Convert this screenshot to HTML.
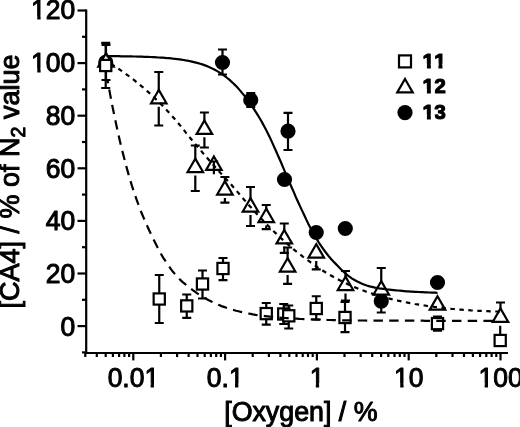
<!DOCTYPE html>
<html lang="en"><head><meta charset="utf-8"><title>Oxygen dependence of CA4 release</title>
<style>html,body{margin:0;padding:0;background:#fff}svg{display:block}text{font-kerning:none}</style></head>
<body><svg width="520" height="427" viewBox="0 0 520 427">
<rect width="520" height="427" fill="#fff"/>
<g fill="none" stroke="#000" stroke-width="2.2">
<path d="M86.2,9.4V353H508"/>
<path d="M77.5,10.5H86.2"/>
<path d="M77.5,63.1H86.2"/>
<path d="M77.5,115.7H86.2"/>
<path d="M77.5,168.3H86.2"/>
<path d="M77.5,220.9H86.2"/>
<path d="M77.5,273.5H86.2"/>
<path d="M77.5,326.1H86.2"/>
<path d="M82,36.80H86.2"/>
<path d="M82,89.40H86.2"/>
<path d="M82,142.00H86.2"/>
<path d="M82,194.60H86.2"/>
<path d="M82,247.20H86.2"/>
<path d="M82,299.80H86.2"/>
<path d="M82,352.40H86.2"/>
<path d="M133.3,353V360.4"/>
<path d="M225.1,353V360.4"/>
<path d="M316.9,353V360.4"/>
<path d="M408.7,353V360.4"/>
<path d="M500.5,353V360.4"/>
<path d="M85.3,353V357"/>
<path d="M96.8,353V357"/>
<path d="M105.7,353V357"/>
<path d="M112.9,353V357"/>
<path d="M119.1,353V357"/>
<path d="M124.4,353V357"/>
<path d="M129.1,353V357"/>
<path d="M160.9,353V357"/>
<path d="M177.1,353V357"/>
<path d="M188.6,353V357"/>
<path d="M197.5,353V357"/>
<path d="M204.7,353V357"/>
<path d="M210.9,353V357"/>
<path d="M216.2,353V357"/>
<path d="M220.9,353V357"/>
<path d="M252.7,353V357"/>
<path d="M268.9,353V357"/>
<path d="M280.4,353V357"/>
<path d="M289.3,353V357"/>
<path d="M296.5,353V357"/>
<path d="M302.7,353V357"/>
<path d="M308.0,353V357"/>
<path d="M312.7,353V357"/>
<path d="M344.5,353V357"/>
<path d="M360.7,353V357"/>
<path d="M372.2,353V357"/>
<path d="M381.1,353V357"/>
<path d="M388.3,353V357"/>
<path d="M394.5,353V357"/>
<path d="M399.8,353V357"/>
<path d="M404.5,353V357"/>
<path d="M436.3,353V357"/>
<path d="M452.5,353V357"/>
<path d="M464.0,353V357"/>
<path d="M472.9,353V357"/>
<path d="M480.1,353V357"/>
<path d="M486.3,353V357"/>
<path d="M491.6,353V357"/>
<path d="M496.3,353V357"/>
</g>
<g fill="#000" stroke="#000" stroke-width="2.2">
<path d="M105.7,42.8V62.4M101.2,42.8H110.2"/>
<circle cx="105.7" cy="62.4" r="6.5"/>
<path d="M222.5,49.5V62.5M218.0,49.5H227.0"/>
<path d="M222.5,62.5V74.5M218.0,74.5H227.0"/>
<circle cx="222.5" cy="62.5" r="6.5"/>
<path d="M250.75,93V100M246.25,93H255.25"/>
<path d="M250.75,100V107M246.25,107H255.25"/>
<circle cx="250.75" cy="100" r="6.5"/>
<path d="M288,112.8V131.2M283.5,112.8H292.5"/>
<path d="M288,131.2V150M283.5,150H292.5"/>
<circle cx="288" cy="131.2" r="6.5"/>
<circle cx="284.5" cy="179.5" r="6.5"/>
<circle cx="316.25" cy="232.5" r="6.5"/>
<circle cx="345.3" cy="228.5" r="6.5"/>
<path d="M381.25,301.1V312.5M376.75,312.5H385.75"/>
<circle cx="381.25" cy="301.1" r="6.5"/>
<circle cx="437.5" cy="282.5" r="6.5"/>
</g>
<g fill="#fff" stroke="#000" stroke-width="2.2">
<path d="M106,44.9V56M101.5,44.9H110.5"/>
<path d="M106,69.96999999999998V80M101.5,80H110.5"/>
<path d="M106,53.15L113.75,66.57H98.25Z"/>
<path d="M158.75,72V92.75M154.25,72H163.25"/>
<path d="M158.75,106.72V125.5M154.25,125.5H163.25"/>
<path d="M158.75,89.90L166.5,103.32H151.0Z"/>
<path d="M204.4,112.5V123.4M199.9,112.5H208.9"/>
<path d="M204.4,137.37V147.5M199.9,147.5H208.9"/>
<path d="M204.4,120.55L212.15,133.97H196.65Z"/>
<path d="M195.3,145.5V161.5M190.8,145.5H199.8"/>
<path d="M195.3,175.47V191M190.8,191H199.8"/>
<path d="M195.3,158.65L203.05,172.07H187.55Z"/>
<path d="M213.9,156.45L221.65,169.87H206.15Z"/>
<path d="M224.9,177V184M220.4,177H229.4"/>
<path d="M224.9,197.97V202.6M220.4,202.6H229.4"/>
<path d="M224.9,181.15L232.65,194.57H217.15Z"/>
<path d="M250.5,187V201M246.0,187H255.0"/>
<path d="M250.5,214.97V226M246.0,226H255.0"/>
<path d="M250.5,198.15L258.25,211.57H242.75Z"/>
<path d="M266.25,205V211.5M261.75,205H270.75"/>
<path d="M266.25,225.47V229.2M261.75,229.2H270.75"/>
<path d="M266.25,208.65L274.0,222.07H258.5Z"/>
<path d="M284.3,223.5V232.8M279.8,223.5H288.8"/>
<path d="M284.3,246.77V252.8M279.8,252.8H288.8"/>
<path d="M284.3,229.95L292.05,243.37H276.55Z"/>
<path d="M287.6,247.5V261M283.1,247.5H292.1"/>
<path d="M287.6,274.97V283.9M283.1,283.9H292.1"/>
<path d="M287.6,258.15L295.35,271.57H279.85Z"/>
<path d="M316.25,260.97V269.4M311.75,269.4H320.75"/>
<path d="M316.25,244.15L324.0,257.57H308.5Z"/>
<path d="M345.5,271V279.5M341.0,271H350.0"/>
<path d="M345.5,293.47V300.5M341.0,300.5H350.0"/>
<path d="M345.5,276.65L353.25,290.07H337.75Z"/>
<path d="M381.25,268V284M376.75,268H385.75"/>
<path d="M381.25,281.15L389.0,294.57H373.5Z"/>
<path d="M437.5,296.25L445.25,309.67H429.75Z"/>
<path d="M500.5,302.5V311.4M496.0,302.5H505.0"/>
<path d="M500.5,308.55L508.25,321.97H492.75Z"/>
<path d="M209.6,161.5H218.2M213.9,161.5V174.2"/>
<path d="M105.7,65.5V88M101.2,88H110.2"/>
<rect x="100.10000000000001" y="59.9" width="11.2" height="11.2"/>
<path d="M159.25,275V299M154.75,275H163.75"/>
<path d="M159.25,299V323M154.75,323H163.75"/>
<rect x="153.65" y="293.4" width="11.2" height="11.2"/>
<path d="M186.75,294.5V305.9M182.25,294.5H191.25"/>
<path d="M186.75,305.9V317.8M182.25,317.8H191.25"/>
<rect x="181.15" y="300.29999999999995" width="11.2" height="11.2"/>
<path d="M202.5,270.5V284M198.0,270.5H207.0"/>
<path d="M202.5,284V298.5M198.0,298.5H207.0"/>
<rect x="196.9" y="278.4" width="11.2" height="11.2"/>
<path d="M223,258V268.5M218.5,258H227.5"/>
<path d="M223,268.5V280.2M218.5,280.2H227.5"/>
<rect x="217.4" y="262.9" width="11.2" height="11.2"/>
<path d="M266.25,303V313.6M261.75,303H270.75"/>
<path d="M266.25,313.6V324.7M261.75,324.7H270.75"/>
<rect x="260.65" y="308.0" width="11.2" height="11.2"/>
<path d="M283.75,304V314M279.25,304H288.25"/>
<path d="M283.75,314V324M279.25,324H288.25"/>
<rect x="278.15" y="308.4" width="11.2" height="11.2"/>
<path d="M288.75,305.5V315.8M284.25,305.5H293.25"/>
<path d="M288.75,315.8V328.5M284.25,328.5H293.25"/>
<rect x="283.15" y="310.2" width="11.2" height="11.2"/>
<path d="M316.25,296.25V308.5M311.75,296.25H320.75"/>
<path d="M316.25,308.5V319.5M311.75,319.5H320.75"/>
<rect x="310.65" y="302.9" width="11.2" height="11.2"/>
<path d="M345,302V317.5M340.5,302H349.5"/>
<path d="M345,317.5V332.1M340.5,332.1H349.5"/>
<rect x="339.4" y="311.9" width="11.2" height="11.2"/>
<path d="M437.5,316.5V323.6M433.0,316.5H442.0"/>
<path d="M437.5,323.6V330.7M433.0,330.7H442.0"/>
<rect x="431.9" y="318.0" width="11.2" height="11.2"/>
<path d="M500.2,325.8V336"/>
<rect x="494.59999999999997" y="334.9" width="11.2" height="11.2"/>
</g>
<g fill="none" stroke="#000" stroke-width="2.2">
<path d="M106.5,56.1 L108.6,56.1 L110.7,56.1 L112.7,56.2 L114.8,56.2 L116.9,56.2 L119.0,56.2 L121.1,56.3 L123.2,56.3 L125.2,56.3 L127.3,56.4 L129.4,56.4 L131.5,56.4 L133.6,56.5 L135.6,56.5 L137.7,56.6 L139.8,56.7 L141.9,56.7 L144.0,56.8 L146.1,56.9 L148.1,56.9 L150.2,57.0 L152.3,57.1 L154.4,57.2 L156.5,57.3 L158.5,57.5 L160.6,57.6 L162.7,57.7 L164.8,57.9 L166.9,58.1 L169.0,58.2 L171.0,58.4 L173.1,58.7 L175.2,58.9 L177.3,59.1 L179.4,59.4 L181.4,59.7 L183.5,60.0 L185.6,60.4 L187.7,60.7 L189.8,61.2 L191.9,61.6 L193.9,62.1 L196.0,62.6 L198.1,63.1 L200.2,63.7 L202.3,64.4 L204.3,65.1 L206.4,65.9 L208.5,66.7 L210.6,67.7 L212.7,68.7 L214.8,69.7 L216.8,70.9 L218.9,72.1 L221.0,73.5 L223.1,74.9 L225.2,76.4 L227.2,78.0 L229.3,79.7 L231.4,81.6 L233.5,83.5 L235.6,85.6 L237.7,87.8 L239.7,90.1 L241.8,92.6 L243.9,95.1 L246.0,97.8 L248.1,100.6 L250.1,103.5 L252.2,106.5 L254.3,109.6 L256.4,112.9 L258.5,116.2 L260.6,119.8 L262.6,123.4 L264.7,127.3 L266.8,131.3 L268.9,135.5 L271.0,139.9 L273.0,144.4 L275.1,149.0 L277.2,153.7 L279.3,158.5 L281.4,163.3 L283.4,168.2 L285.5,173.1 L287.6,177.9 L289.7,182.8 L291.8,187.7 L293.9,192.4 L295.9,197.2 L298.0,201.8 L300.1,206.4 L302.2,210.9 L304.3,215.3 L306.3,219.6 L308.4,223.9 L310.5,227.9 L312.6,231.9 L314.7,235.6 L316.8,239.1 L318.8,242.5 L320.9,245.6 L323.0,248.6 L325.1,251.5 L327.2,254.2 L329.2,256.8 L331.3,259.2 L333.4,261.5 L335.5,263.6 L337.6,265.7 L339.7,267.9 L341.7,270.0 L343.8,272.0 L345.9,273.9 L348.0,275.7 L350.1,277.2 L352.1,278.6 L354.2,279.8 L356.3,281.0 L358.4,282.0 L360.5,283.0 L362.6,283.9 L364.6,284.7 L366.7,285.5 L368.8,286.1 L370.9,286.7 L373.0,287.1 L375.0,287.6 L377.1,287.9 L379.2,288.3 L381.3,288.6 L383.4,288.9 L385.5,289.2 L387.5,289.5 L389.6,289.7 L391.7,289.9 L393.8,290.1 L395.9,290.3 L397.9,290.5 L400.0,290.7 L402.1,290.9 L404.2,291.1 L406.3,291.3 L408.4,291.4 L410.4,291.6 L412.5,291.7 L414.6,291.8 L416.7,291.9 L418.8,292.0 L420.8,292.1 L422.9,292.2 L425.0,292.3 L427.1,292.4 L429.2,292.5 L431.3,292.6 L433.3,292.6 L435.4,292.7 L437.5,292.8"/>
<path stroke-dasharray="4.5 4.5" stroke-dashoffset="3.2" d="M113.5,65.5 L115.9,67.0 L118.4,68.6 L120.8,70.3 L123.2,72.0 L125.7,73.7 L128.1,75.5 L130.5,77.4 L132.9,79.2 L135.4,81.2 L137.8,83.1 L140.2,85.1 L142.7,87.2 L145.1,89.3 L147.5,91.4 L150.0,93.6 L152.4,95.9 L154.8,98.1 L157.3,100.5 L159.7,102.8 L162.1,105.2 L164.5,107.8 L167.0,110.4 L169.4,113.0 L171.8,115.8 L174.3,118.5 L176.7,121.4 L179.1,124.2 L181.6,127.1 L184.0,130.2 L186.4,133.3 L188.9,136.4 L191.3,139.3 L193.7,142.2 L196.1,145.0 L198.6,147.8 L201.0,150.7 L203.4,153.6 L205.9,156.4 L208.3,159.2 L210.7,162.0 L213.2,164.7 L215.6,167.5 L218.0,170.2 L220.5,172.9 L222.9,175.6 L225.3,178.2 L227.7,180.8 L230.2,183.4 L232.6,186.2 L235.0,189.1 L237.5,191.9 L239.9,194.8 L242.3,197.6 L244.8,200.4 L247.2,203.2 L249.6,205.9 L252.1,208.6 L254.5,211.3 L256.9,214.0 L259.3,216.6 L261.8,219.2 L264.2,221.7 L266.6,224.2 L269.1,226.7 L271.5,229.1 L273.9,231.5 L276.4,233.9 L278.8,236.2 L281.2,238.4 L283.7,240.6 L286.1,242.8 L288.5,244.9 L290.9,247.0 L293.4,249.1 L295.8,251.1 L298.2,253.0 L300.7,254.9 L303.1,256.8 L305.5,258.6 L308.0,260.4 L310.4,262.2 L312.8,263.9 L315.3,265.6 L317.7,267.3 L320.1,268.9 L322.6,270.5 L325.0,272.0 L327.4,273.5 L329.8,274.9 L332.3,276.3 L334.7,277.6 L337.1,278.9 L339.6,280.2 L342.0,281.4 L344.4,282.6 L346.9,283.8 L349.3,284.9 L351.7,286.0 L354.2,287.0 L356.6,288.0 L359.0,289.0 L361.4,289.9 L363.9,290.8 L366.3,291.7 L368.7,292.5 L371.2,293.3 L373.6,294.1 L376.0,294.8 L378.5,295.6 L380.9,296.3 L383.3,297.0 L385.8,297.6 L388.2,298.3 L390.6,298.9 L393.0,299.5 L395.5,300.0 L397.9,300.6 L400.3,301.1 L402.8,301.6 L405.2,302.1 L407.6,302.6 L410.1,303.1 L412.5,303.5 L414.9,304.0 L417.4,304.4 L419.8,304.8 L422.2,305.1 L424.6,305.5 L427.1,305.9 L429.5,306.2 L431.9,306.5 L434.4,306.9 L436.8,307.2 L439.2,307.5 L441.7,307.7 L444.1,308.0 L446.5,308.3 L449.0,308.5 L451.4,308.8 L453.8,309.0 L456.2,309.2 L458.7,309.5 L461.1,309.7 L463.5,309.9 L466.0,310.0 L468.4,310.2 L470.8,310.4 L473.3,310.5 L475.7,310.7 L478.1,310.8 L480.6,310.9 L483.0,311.0 L485.4,311.1 L487.8,311.2 L490.3,311.3 L492.7,311.4 L495.1,311.5 L497.6,311.5 L500.0,311.6"/>
<path stroke-dasharray="9.4 6.3" stroke-dashoffset="6.3" d="M107.6,80.2 L110.0,93.6 L112.4,106.2 L114.9,118.2 L117.3,129.5 L119.7,140.2 L122.1,150.3 L124.6,159.8 L127.0,168.9 L129.4,177.4 L131.8,185.4 L134.3,192.9 L136.7,199.9 L139.1,206.5 L141.5,212.8 L144.0,218.6 L146.4,224.2 L148.8,229.5 L151.2,234.6 L153.7,239.7 L156.1,244.6 L158.5,249.3 L160.9,253.7 L163.3,257.8 L165.8,261.6 L168.2,265.2 L170.6,268.6 L173.0,271.8 L175.5,274.7 L177.9,277.4 L180.3,279.9 L182.7,282.1 L185.2,284.1 L187.6,286.1 L190.0,288.0 L192.4,289.9 L194.9,291.7 L197.3,293.4 L199.7,295.0 L202.1,296.5 L204.6,297.9 L207.0,299.3 L209.4,300.6 L211.8,301.8 L214.3,303.0 L216.7,304.1 L219.1,305.1 L221.5,306.1 L223.9,306.9 L226.4,307.8 L228.8,308.6 L231.2,309.3 L233.6,310.0 L236.1,310.7 L238.5,311.3 L240.9,311.9 L243.3,312.5 L245.8,313.0 L248.2,313.5 L250.6,313.9 L253.0,314.4 L255.5,314.8 L257.9,315.1 L260.3,315.5 L262.7,315.8 L265.2,316.1 L267.6,316.4 L270.0,316.7 L272.4,316.9 L274.8,317.2 L277.3,317.4 L279.7,317.6 L282.1,317.8 L284.5,318.0 L287.0,318.1 L289.4,318.3 L291.8,318.4 L294.2,318.6 L296.7,318.7 L299.1,318.9 L301.5,319.0 L303.9,319.1 L306.4,319.2 L308.8,319.3 L311.2,319.4 L313.6,319.5 L316.1,319.6 L318.5,319.7 L320.9,319.8 L323.3,319.8 L325.8,319.9 L328.2,320.0 L330.6,320.0 L333.0,320.1 L335.4,320.1 L337.9,320.2 L340.3,320.2 L342.7,320.3 L345.1,320.3 L347.6,320.3 L350.0,320.4 L352.4,320.4 L354.8,320.4 L357.3,320.5 L359.7,320.5 L362.1,320.5 L364.5,320.5 L367.0,320.6 L369.4,320.6 L371.8,320.6 L374.2,320.6 L376.7,320.6 L379.1,320.6 L381.5,320.6 L383.9,320.7 L386.3,320.7 L388.8,320.7 L391.2,320.7 L393.6,320.7 L396.0,320.7 L398.5,320.7 L400.9,320.7 L403.3,320.7 L405.7,320.7 L408.2,320.7 L410.6,320.7 L413.0,320.7 L415.4,320.7 L417.9,320.7 L420.3,320.7 L422.7,320.7 L425.1,320.8 L427.6,320.8 L430.0,320.8 L432.4,320.8 L434.8,320.8 L437.3,320.8 L439.7,320.8 L442.1,320.8 L444.5,320.8 L446.9,320.8 L449.4,320.8 L451.8,320.8 L454.2,320.8 L456.6,320.8 L459.1,320.8 L461.5,320.8 L463.9,320.8 L466.3,320.8 L468.8,320.8 L471.2,320.8 L473.6,320.8 L476.0,320.8 L478.5,320.8 L480.9,320.8 L483.3,320.8 L485.7,320.8 L488.2,320.8 L490.6,320.8 L493.0,320.8"/>
</g>
<g fill="#fff" stroke="#000" stroke-width="2.2">
<rect x="399" y="55.4" width="12" height="12"/>
<path d="M405,79.05L412.75,92.47H397.25Z"/>
</g>
<circle cx="405" cy="112.6" r="7.6" fill="#000"/>
<g font-family="'Liberation Sans', sans-serif" font-weight="bold" font-size="20.8px" fill="#000" stroke="#000" stroke-width="1.1" stroke-linejoin="round">
<text x="422.6" y="67.5">11</text>
<text x="422.6" y="92.9">12</text>
<text x="422.6" y="118.5">13</text>
</g>
<g font-family="'Liberation Sans', sans-serif" font-size="27.8px" fill="#000" stroke="#000" stroke-width="1.05" stroke-linejoin="round">
<text transform="translate(75.3,19.4) scale(0.953,1)" text-anchor="end">120</text>
<text transform="translate(75.3,72.10000000000001) scale(0.953,1)" text-anchor="end">100</text>
<text transform="translate(75.3,124.80000000000001) scale(0.953,1)" text-anchor="end">80</text>
<text transform="translate(75.3,177.50000000000003) scale(0.953,1)" text-anchor="end">60</text>
<text transform="translate(75.3,230.20000000000002) scale(0.953,1)" text-anchor="end">40</text>
<text transform="translate(75.3,282.9) scale(0.953,1)" text-anchor="end">20</text>
<text transform="translate(75.3,335.6) scale(0.953,1)" text-anchor="end">0</text>
<text transform="translate(133.4,387) scale(0.953,1)" text-anchor="middle">0.01</text>
<text transform="translate(225.2,387) scale(0.953,1)" text-anchor="middle">0.1</text>
<text transform="translate(317.0,387) scale(0.953,1)" text-anchor="middle">1</text>
<text transform="translate(408.8,387) scale(0.953,1)" text-anchor="middle">10</text>
<text transform="translate(500.6,387) scale(0.953,1)" text-anchor="middle">100</text>
</g>
<g font-family="'Liberation Sans', sans-serif" font-size="27px" fill="#000" stroke="#000" stroke-width="1.0" stroke-linejoin="round">
<text font-size="26.8px" x="224.2" y="420.5">[Oxygen] / %</text>
<text transform="translate(19.2,308.5) rotate(-90)">[CA4] / % of N<tspan font-size="19.5px" dy="6">2</tspan><tspan dy="-6"> value</tspan></text>
</g>
<g fill="#fff">
<rect x="422.66" y="63.63" width="4.24" height="6.22"/>
<rect x="430.86" y="63.63" width="3.98" height="6.22"/>
<rect x="434.22" y="63.63" width="4.24" height="6.22"/>
<rect x="442.42" y="63.63" width="3.98" height="6.22"/>
<rect x="422.66" y="89.03" width="4.24" height="6.22"/>
<rect x="430.86" y="89.03" width="3.98" height="6.22"/>
<rect x="422.66" y="114.63" width="4.24" height="6.22"/>
<rect x="430.86" y="114.63" width="3.98" height="6.22"/>
<rect x="31.92" y="15.60" width="5.34" height="6.13"/>
<rect x="40.61" y="15.60" width="5.14" height="6.13"/>
<rect x="31.92" y="68.30" width="5.34" height="6.13"/>
<rect x="40.61" y="68.30" width="5.14" height="6.13"/>
<rect x="145.25" y="383.20" width="5.34" height="6.13"/>
<rect x="153.93" y="383.20" width="5.14" height="6.13"/>
<rect x="229.68" y="383.20" width="5.34" height="6.13"/>
<rect x="238.37" y="383.20" width="5.14" height="6.13"/>
<rect x="310.45" y="383.20" width="5.34" height="6.13"/>
<rect x="319.13" y="383.20" width="5.14" height="6.13"/>
<rect x="394.88" y="383.20" width="5.34" height="6.13"/>
<rect x="403.57" y="383.20" width="5.14" height="6.13"/>
<rect x="479.32" y="383.20" width="5.34" height="6.13"/>
<rect x="488.01" y="383.20" width="5.14" height="6.13"/>
</g>
</svg></body></html>
